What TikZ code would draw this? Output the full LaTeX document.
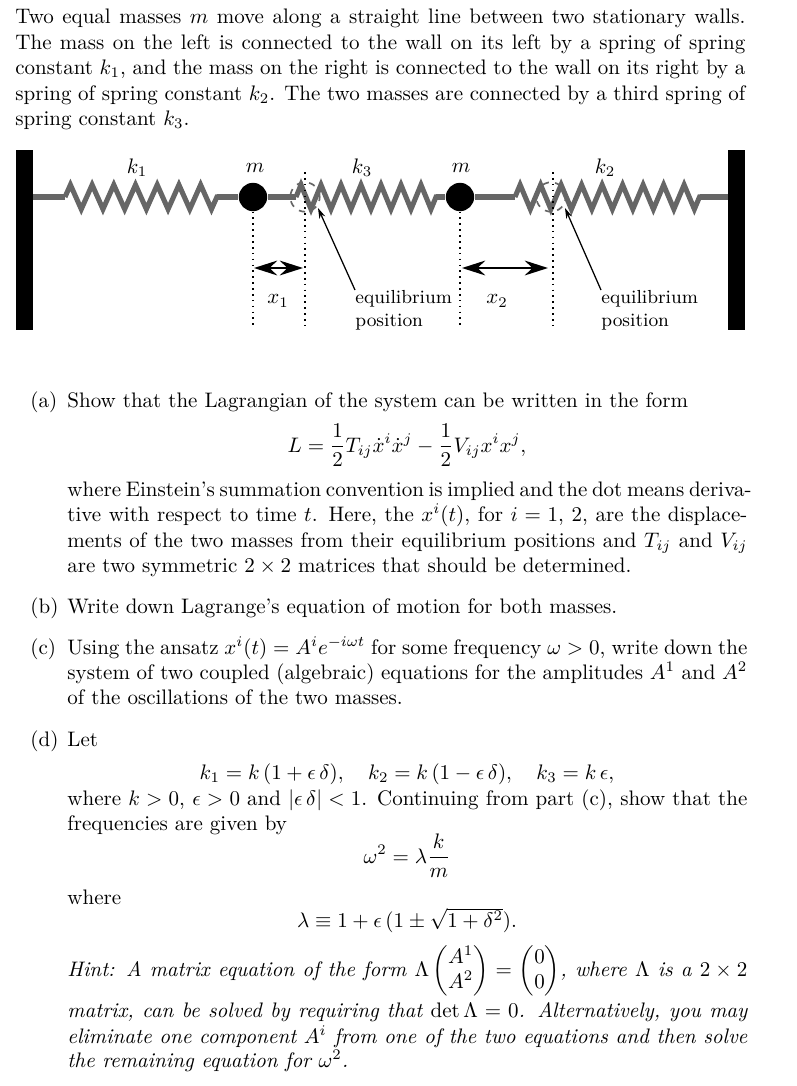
\documentclass[tikz,border=0pt]{standalone}
\usepackage{amsmath,amssymb}
\usetikzlibrary{decorations.pathmorphing,arrows.meta}
\newcommand{\tline}[4]{\node[anchor=base west,inner sep=0pt] at (#1,#2) {\hbox to #3{#4}};}
\newcommand{\nline}[3]{\node[anchor=base west,inner sep=0pt] at (#1,#2) {#3};}
\begin{document}
\begin{tikzpicture}[x=0.4762pt,y=-0.4762pt,
  wall/.style={fill=black},
  springline/.style={draw=black!60,line width=2.4pt,decorate,decoration={zigzag,amplitude=5.8pt,segment length=#1}},
  rod/.style={draw=black!60,line width=2.4pt},
  mass/.style={circle,fill=black,minimum size=13.5pt,inner sep=0pt},
  eqcirc/.style={circle,draw=black!60,dashed,thick,minimum size=14pt,inner sep=0pt},
  guide/.style={dotted,thick},
  disp/.style={{Stealth[length=11pt,width=7pt]}-{Stealth[length=11pt,width=7pt]},line width=1.3pt},
  pointer/.style={-{Stealth[length=5pt,width=3pt]},semithick}]
\useasboundingbox (0,0) rectangle (796,1086);
% paragraph 1
\def\wA{347.6pt}
\tline{15}{23}{\wA}{Two equal masses $m$ move along a straight line between two stationary walls.}
\tline{15}{49}{\wA}{The mass on the left is connected to the wall on its left by a spring of spring}
\tline{15}{74}{\wA}{constant $k_1$, and the mass on the right is connected to the wall on its right by a}
\tline{15}{100}{\wA}{spring of spring constant $k_2$. The two masses are connected by a third spring of}
\nline{15}{125}{spring constant $k_3$.}
% diagram
\fill[wall] (16,150) rectangle (33,330);
\fill[wall] (728,150) rectangle (745,330);
\coordinate (w1) at (33,197);
\coordinate (w2) at (728,197);
\node[mass] (m1) at (253,197) {};
\node[mass] (m2) at (460,197) {};
\node[eqcirc] (e1) at (305,197) {};
\node[eqcirc] (e2) at (551,197) {};
\draw[rod] (w1) -- (65,197);
\draw[springline=21.7pt/2.1] (65,197) -- (217,197);
\draw[rod] (217,197) -- (m1.west);
\draw[rod] (m1.east) -- (296,197);
\draw[springline=20pt/2.1] (296,197) -- (436,197);
\draw[rod] (436,197) -- (m2.west);
\draw[rod] (m2.east) -- (515,197);
\draw[springline=20.5pt/2.1] (515,197) -- (700,197);
\draw[rod] (700,197) -- (w2);
\draw[guide] (m1.south) -- (253,325);
\draw[guide] (305,172) -- (305,325);
\draw[guide] (m2.south) -- (460,325);
\draw[guide] (553,172) -- (553,325);
\coordinate (a1) at (254,268); \coordinate (b1) at (303,268);
\coordinate (a2) at (462,268); \coordinate (b2) at (548,268);
\draw[disp] (a1) -- (b1);
\draw[disp] (a2) -- (b2);
\node (k1) at (137,168) {$k_1$};
\node (lm1) at (255,168) {$m$};
\node (k3) at (362,168) {$k_3$};
\node (lm2) at (461,168) {$m$};
\node (k2) at (605,168) {$k_2$};
\node (x1) at (278,301) {$x_1$};
\node (x2) at (497,301) {$x_2$};
\node[align=left,font=\small,anchor=north west,inner sep=0pt] (q1) at (355,290) {equilibrium\\position};
\node[align=left,font=\small,anchor=north west,inner sep=0pt] (q2) at (601,290) {equilibrium\\position};
\coordinate (t1) at (318,208); \coordinate (t2) at (565,208);
\draw[pointer] (q1.north west) -- (t1);
\draw[pointer] (q2.north west) -- (t2);
% parts
\def\wB{323.8pt}
\nline{30}{407}{(a)}
\nline{67}{407}{Show that the Lagrangian of the system can be written in the form}
\node[anchor=base,inner sep=0pt] (eqL) at (407,452) {$\displaystyle L=\frac{1}{2}T_{ij}\dot{x}^i\dot{x}^j-\frac{1}{2}V_{ij}x^ix^j,$};
\tline{67}{496}{\wB}{where Einstein's summation convention is implied and the dot means deriva-}
\tline{67}{521}{\wB}{tive with respect to time $t$. Here, the $x^i(t)$, for $i=1$, 2, are the displace-}
\tline{67}{547}{\wB}{ments of the two masses from their equilibrium positions and $T_{ij}$ and $V_{ij}$}
\nline{67}{572}{are two symmetric $2\times 2$ matrices that should be determined.}
\nline{30}{613}{(b)}
\nline{67}{613}{Write down Lagrange's equation of motion for both masses.}
\nline{30}{654}{(c)}
\tline{67}{654}{\wB}{Using the ansatz $x^i(t)=A^ie^{-i\omega t}$ for some frequency $\omega>0$, write down the}
\tline{67}{679}{\wB}{system of two coupled (algebraic) equations for the amplitudes $A^1$ and $A^2$}
\nline{67}{704}{of the oscillations of the two masses.}
\nline{30}{746}{(d)}
\nline{67}{746}{Let}
\node[anchor=base,inner sep=0pt] (eqk) at (407,779) {$k_1=k\,(1+\epsilon\,\delta),\quad k_2=k\,(1-\epsilon\,\delta),\quad k_3=k\,\epsilon,$};
\tline{67}{805}{\wB}{where $k>0$, $\epsilon>0$ and $|\epsilon\,\delta|<1$. Continuing from part (c), show that the}
\nline{67}{830}{frequencies are given by}
\node[anchor=base,inner sep=0pt] (eqw) at (407,863) {$\displaystyle \omega^2=\lambda\frac{k}{m}$};
\nline{67}{904}{where}
\node[anchor=base,inner sep=0pt] (eql) at (407,927) {$\lambda\equiv 1+\epsilon\,(1\pm\sqrt{1+\delta^2}).$};
\tline{67}{976}{\wB}{\itshape Hint: A matrix equation of the form $\Lambda\begin{pmatrix}A^1\\A^2\end{pmatrix}=\begin{pmatrix}0\\0\end{pmatrix}$, where $\Lambda$ is a $2\times 2$}
\tline{67}{1017}{\wB}{\itshape matrix, can be solved by requiring that $\det\Lambda=0$. Alternatively, you may}
\tline{67}{1043}{\wB}{\itshape eliminate one component $A^i$ from one of the two equations and then solve}
\nline{67}{1067}{\itshape the remaining equation for $\omega^2$.}
\end{tikzpicture}
\end{document}
